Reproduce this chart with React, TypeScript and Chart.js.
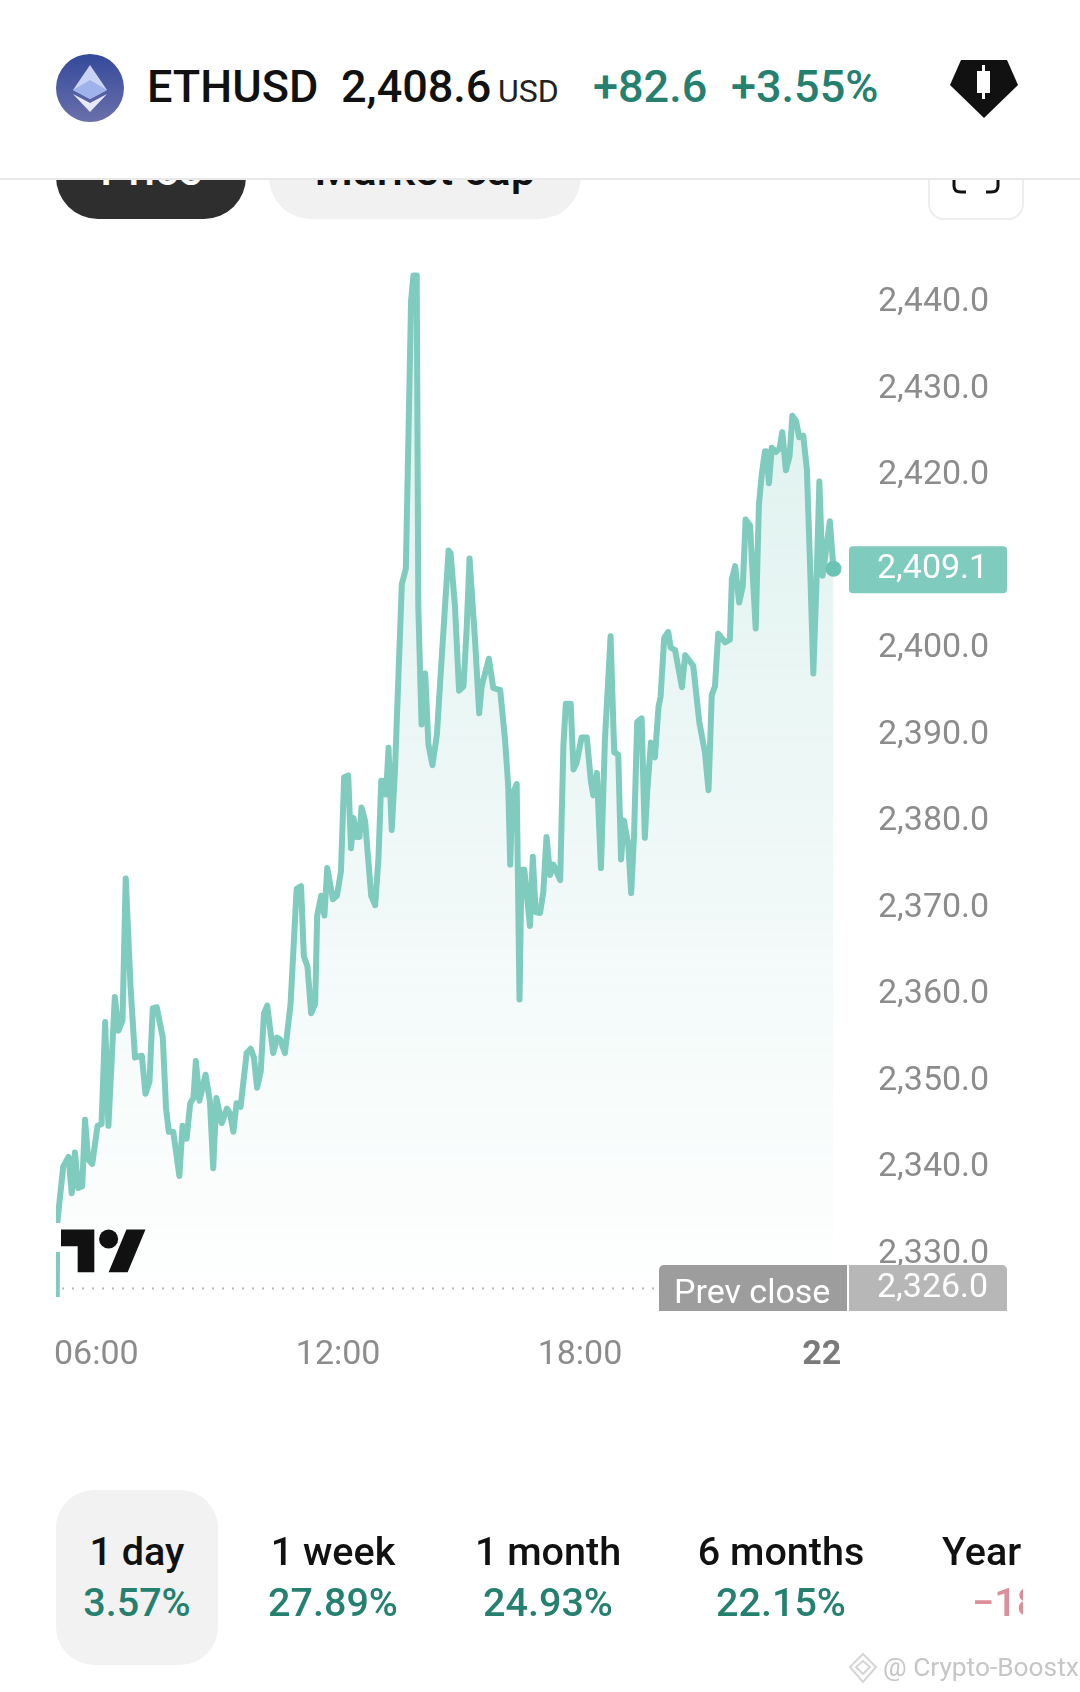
import React, { useEffect, useRef } from "react";
import { Chart, registerables } from "chart.js";

Chart.register(...registerables);

const hours = [
  5.02, 5.03, 5.1, 5.18, 5.31, 5.39, 5.47, 5.55, 5.65, 5.72, 5.8, 5.9, 6.03, 6.13, 6.22, 6.3, 6.46, 6.55, 6.65, 6.73, 6.85, 6.96, 7.13, 7.22, 7.32, 7.4, 7.5, 7.65, 7.73, 7.8, 7.91, 8.06, 8.14, 8.24, 8.33, 8.41, 8.47, 8.56, 8.71, 8.82, 8.9, 8.98, 9.11, 9.24, 9.32, 9.4, 9.48, 9.58, 9.73, 9.83, 9.91, 9.99, 10.08, 10.16, 10.24, 10.39, 10.48, 10.56, 10.68, 10.82, 10.97, 11.08, 11.15, 11.24, 11.33, 11.43, 11.48, 11.58, 11.66, 11.73, 11.87, 11.97, 12.07, 12.15, 12.25, 12.32, 12.38, 12.46, 12.53, 12.58, 12.67, 12.82, 12.92, 13.0, 13.07, 13.16, 13.19, 13.25, 13.33, 13.41, 13.58, 13.68, 13.81, 13.87, 13.95, 13.99,
  14.07, 14.16, 14.24, 14.34, 14.45, 14.57, 14.74, 14.79, 14.9, 15.0, 15.11, 15.19, 15.26, 15.4, 15.5, 15.56, 15.74, 15.85, 16.02, 16.14, 16.22, 16.27, 16.32, 16.43, 16.5, 16.55, 16.62, 16.76, 16.83, 16.9, 17.01, 17.09, 17.17, 17.26, 17.34, 17.51, 17.59, 17.65, 17.77, 17.84, 17.92, 18.04, 18.17, 18.27, 18.33, 18.42, 18.52, 18.62, 18.76, 18.85, 18.95, 19.02, 19.09, 19.2, 19.27, 19.34, 19.42, 19.53, 19.61, 19.67, 19.76, 19.86, 19.95, 20.0, 20.09, 20.19, 20.25, 20.36, 20.53, 20.61, 20.81, 20.96, 21.1, 21.19, 21.27, 21.35, 21.43, 21.6, 21.72, 21.77, 21.85, 21.95, 22.04, 22.11, 22.22, 22.36, 22.44, 22.51, 22.59, 22.62, 22.69, 22.76, 22.86, 22.95, 23.02, 23.11, 23.2, 23.27, 23.36, 23.44, 23.54, 23.63, 23.71, 23.79, 23.87, 23.94, 24.02, 24.12, 24.2, 24.29,
];

const prices = [
  2324.6, 2333.1, 2336.2, 2339.7, 2340.8, 2336.6, 2341.3, 2337.2, 2337.4, 2345.1, 2340.5, 2340.0, 2344.4, 2344.6, 2356.4, 2344.4, 2359.3, 2355.4, 2356.6, 2373.0, 2360.5, 2352.3, 2352.5, 2348.1, 2349.5, 2358.0, 2358.1, 2354.6, 2346.4, 2343.7, 2343.7, 2338.6, 2344.4, 2342.9, 2347.0, 2347.6, 2351.9, 2347.3, 2350.3, 2347.2, 2339.5, 2347.6, 2344.7, 2346.4, 2345.8, 2343.7, 2347.0, 2346.6, 2352.8, 2353.3, 2352.3, 2348.8, 2350.7, 2357.4, 2358.3, 2352.8, 2354.6, 2354.4, 2352.8, 2358.5, 2371.8, 2372.1, 2364.0, 2362.8, 2357.4, 2358.5, 2368.7, 2371.0, 2368.7, 2374.2, 2370.6, 2371.0, 2373.8, 2384.7, 2384.9, 2376.5, 2380.0, 2377.8, 2377.8, 2381.2, 2379.6, 2371.0, 2369.9, 2375.3, 2384.3, 2384.3, 2382.7, 2388.1, 2378.6, 2385.5, 2407.0, 2408.8, 2439.8, 2442.7, 2442.7, 2404.3,
  2390.8, 2396.7, 2388.5, 2386.1, 2389.6, 2398.5, 2410.9, 2410.6, 2404.4, 2394.7, 2395.2, 2402.0, 2410.0, 2400.3, 2392.1, 2395.2, 2398.4, 2395.0, 2394.8, 2389.1, 2383.7, 2374.6, 2382.6, 2383.9, 2359.0, 2374.0, 2374.0, 2367.5, 2375.5, 2369.1, 2369.0, 2371.4, 2377.8, 2373.4, 2374.6, 2372.8, 2388.5, 2393.2, 2393.2, 2385.6, 2386.4, 2389.3, 2389.3, 2384.3, 2382.6, 2385.2, 2374.2, 2389.1, 2401.0, 2387.6, 2387.3, 2375.2, 2379.7, 2376.9, 2371.3, 2377.8, 2391.1, 2391.5, 2377.7, 2383.1, 2388.7, 2387.0, 2392.9, 2394.0, 2400.8, 2401.5, 2399.7, 2399.4, 2395.1, 2398.8, 2397.6, 2391.1, 2387.6, 2383.2, 2394.2, 2395.2, 2401.3, 2400.3, 2400.6, 2407.6, 2409.1, 2404.9, 2406.8, 2414.5, 2413.8, 2401.9, 2416.2, 2419.7, 2422.4, 2422.4, 2418.7, 2422.8, 2422.3, 2422.7, 2424.6, 2420.2, 2421.8, 2426.5, 2425.9, 2424.0, 2424.2, 2420.3, 2409.1, 2396.7, 2407.4, 2418.9, 2408.0, 2411.5, 2414.3, 2408.8,
];

const yTicks = [2330, 2340, 2350, 2360, 2370, 2380, 2390, 2400, 2420, 2430, 2440];
const xTickHours = [6, 12, 18, 24];
const xTickLabels = ["06:00", "12:00", "18:00", "22"];
const lastPrice = 2409.1;
const prevClose = 2326.0;
const prevCloseLine = 2325.6;
const prevCloseSpan = [5.15, 19.96];

const periods = ["1 day", "1 week", "1 month", "6 months"];
const periodChanges = ["3.57%", "27.89%", "24.93%", "22.15%"];
const periodCenters = [137, 333, 548, 781];

const GREEN = "#25806f";
const LINE = "#7fcbbe";
const FONT = "Roboto, sans-serif";
const fmt = (v: number) => v.toLocaleString("en-US", { minimumFractionDigits: 1, maximumFractionDigits: 1 });

function Txt(p: { x: number; y: number; s: number; c: string; w?: number; center?: boolean; children: React.ReactNode }) {
  return (
    <span
      style={{
        position: "absolute",
        left: p.x,
        top: p.y - 0.842 * p.s,
        fontFamily: FONT,
        fontSize: p.s,
        fontWeight: p.w ?? 500,
        color: p.c,
        lineHeight: "1em",
        whiteSpace: "nowrap",
        transform: p.center ? "translateX(-50%)" : undefined,
      }}
    >
      {p.children}
    </span>
  );
}

const tagPlugin = {
  id: "tags",
  afterDraw(chart: any) {
    const { ctx } = chart;
    const y = chart.scales.y;
    const box = (x: number, top: number, w: number, h: number, c: string, r: number[]) => {
      ctx.fillStyle = c;
      ctx.beginPath();
      ctx.roundRect(x, top, w, h, r);
      ctx.fill();
    };
    const label = (t: string, x: number, cy: number) => {
      ctx.fillStyle = "#ffffff";
      ctx.font = `400 34px ${FONT}`;
      ctx.textAlign = "left";
      ctx.textBaseline = "middle";
      ctx.fillText(t, x, cy);
    };
    const lastY = y.getPixelForValue(lastPrice);
    box(849, lastY - 20, 158, 47, LINE, [4, 4, 4, 4]);
    label(fmt(lastPrice), 877, lastY + 3);
    const prevY = y.getPixelForValue(prevClose);
    box(659, prevY - 20, 188, 46, "#9d9d9d", [5, 0, 0, 0]);
    box(849, prevY - 20, 158, 46, "#b7b7b7", [0, 5, 0, 0]);
    label("Prev close", 674, prevY + 10);
    label(fmt(prevClose), 877, prevY + 4);
  },
};

export default function App() {
  const ref = useRef<HTMLCanvasElement>(null);
  useEffect(() => {
    const chart = new Chart(ref.current as HTMLCanvasElement, {
      type: "line",
      data: {
        datasets: [
          {
            data: hours.map((h, i) => ({ x: h, y: prices[i] })),
            borderColor: LINE,
            borderWidth: 6,
            tension: 0,
            borderJoinStyle: "round",
            fill: "start",
            backgroundColor: (c: any) => {
              const a = c.chart.chartArea;
              if (!a) return "rgba(127,203,190,0.2)";
              const g = c.chart.ctx.createLinearGradient(0, a.top, 0, a.bottom);
              g.addColorStop(0, "rgba(127,203,190,0.28)");
              g.addColorStop(1, "rgba(127,203,190,0)");
              return g;
            },
            pointRadius: (c: any) => (c.dataIndex === hours.length - 1 ? 8 : 0),
            pointBackgroundColor: "#6cc3b4",
            pointBorderWidth: 0,
          },
          {
            data: prevCloseSpan.map((h) => ({ x: h, y: prevCloseLine })),
            borderColor: "#b5b5b5",
            borderWidth: 2,
            borderDash: [2, 8],
            pointRadius: 0,
            fill: false,
          },
        ],
      } as any,
      options: {
        animation: false,
        responsive: false,
        devicePixelRatio: 1,
        layout: { padding: { left: 56, top: 260, right: 0, bottom: 0 } },
        plugins: { legend: { display: false }, tooltip: { enabled: false } },
        scales: {
          x: {
            type: "linear",
            min: 5,
            max: 24.7,
            grid: { display: false },
            border: { display: false },
            afterBuildTicks: (s: any) => {
              s.ticks = xTickHours.map((value) => ({ value }));
            },
            afterFit: (s: any) => {
              s.height = 382;
            },
            ticks: {
              autoSkip: false,
              maxRotation: 0,
              padding: 17,
              callback: (v: any) => xTickLabels[xTickHours.indexOf(Number(v))],
              color: (c: any) => (c.index === 3 ? "#7a7a7a" : "#8c8c8c"),
              font: (c: any) => ({ family: FONT, size: 34, weight: c.index === 3 ? "700" : "400" }),
            },
          },
          y: {
            position: "right",
            min: 2323.1,
            max: 2444.5,
            grid: { display: false },
            border: { display: false },
            afterBuildTicks: (s: any) => {
              s.ticks = yTicks.map((value) => ({ value }));
            },
            afterFit: (s: any) => {
              s.width = 230;
            },
            ticks: {
              autoSkip: false,
              padding: 20,
              labelOffset: 4,
              align: "center",
              crossAlign: "near",
              callback: (v: any) => fmt(Number(v)),
              color: "#8c8c8c",
              font: { family: FONT, size: 34, weight: "400" },
            },
          },
        },
      } as any,
      plugins: [tagPlugin],
    });
    return () => chart.destroy();
  }, []);

  return (
    <div style={{ position: "absolute", left: 0, top: 0, width: 1080, height: 1692, background: "#fff", overflow: "hidden" }}>
      {/* pills behind the header */}
      <div style={{ position: "absolute", left: 56, top: 120, width: 190, height: 99, borderRadius: 42, background: "#2e2e2e" }} />
      <div style={{ position: "absolute", left: 269, top: 120, width: 312, height: 99, borderRadius: 42, background: "#f1f1f1" }} />
      <div style={{ position: "absolute", left: 928, top: 120, width: 92, height: 96, borderRadius: 16, border: "2px solid #eeeeee" }} />
      <Txt x={151} y={185} s={44} c="#ffffff" center>Price</Txt>
      <Txt x={425} y={185} s={44} c="#111111" center>Market cap</Txt>
      <svg style={{ position: "absolute", left: 944, top: 175 }} width={60} height={24}>
        <path d="M10 2 V11 Q10 17 17 17 H22 M54 2 V11 Q54 17 47 17 H42" fill="none" stroke="#111" strokeWidth={3} />
      </svg>

      <canvas ref={ref} width={1080} height={1692} style={{ position: "absolute", left: 0, top: 0, width: 1080, height: 1692 }} />

      {/* header */}
      <div style={{ position: "absolute", left: 0, top: 0, width: 1080, height: 178, background: "#fff", borderBottom: "2px solid #e9e9e9" }} />
      <svg style={{ position: "absolute", left: 56, top: 54 }} width={68} height={68} viewBox="0 0 68 68">
        <defs>
          <linearGradient id="eth" x1="0" y1="0" x2="0" y2="1">
            <stop offset="0" stopColor="#34499b" />
            <stop offset="1" stopColor="#6a70aa" />
          </linearGradient>
        </defs>
        <circle cx={34} cy={34} r={34} fill="url(#eth)" />
        <polygon points="34,11 17,36 34,45 51,36" fill="#c9d4f4" />
        <polygon points="34,26 17,36 34,45 51,36" fill="#9fb2ea" />
        <polygon points="17,40 34,58 51,40 34,49" fill="#e6eafa" />
      </svg>
      <Txt x={147} y={102} s={45} c="#111111">ETHUSD</Txt>
      <Txt x={341} y={102} s={45} c="#111111">2,408.6</Txt>
      <Txt x={498} y={102} s={32} c="#222222" w={400}>USD</Txt>
      <Txt x={593} y={102} s={45} c={GREEN}>+82.6</Txt>
      <Txt x={731} y={102} s={45} c={GREEN}>+3.55%</Txt>
      <svg style={{ position: "absolute", left: 949, top: 59 }} width={70} height={60} viewBox="0 0 70 60">
        <polygon points="12,1 58,1 69,26 35,59 1,26" fill="#111" />
        <rect x={28} y={12} width={13} height={22} fill="#fff" />
        <rect x={33} y={6} width={3} height={34} fill="#fff" />
      </svg>

      {/* TradingView mark */}
      <svg style={{ position: "absolute", left: 54, top: 1220 }} width={96} height={56}>
        <rect x={0} y={3} width={9} height={29} fill="#fff" />
        <g transform="translate(7,0) scale(2.38)">
          <path d="M14 22H7V11H0V4h14v18zM28 22h-8l7.5-18h8L28 22z" fill="#111" />
          <circle cx={20} cy={8} r={4} fill="#111" />
        </g>
      </svg>

      {/* period cards */}
      <div style={{ position: "absolute", left: 56, top: 1490, width: 162, height: 175, borderRadius: 38, background: "#f2f2f2" }} />
      {periods.map((p, i) => (
        <React.Fragment key={p}>
          <Txt x={periodCenters[i]} y={1565} s={39.5} c="#111111" center>{p}</Txt>
          <Txt x={periodCenters[i]} y={1616} s={39.5} c={GREEN} center>{periodChanges[i]}</Txt>
        </React.Fragment>
      ))}
      <Txt x={942} y={1565} s={39.5} c="#111111">Year</Txt>
      <div style={{ position: "absolute", left: 960, top: 1570, width: 63, height: 60, overflow: "hidden" }}>
        <Txt x={12} y={46} s={39.5} c="#dc8f99">−18</Txt>
      </div>

      {/* watermark */}
      <svg style={{ position: "absolute", left: 847, top: 1652 }} width={32} height={32} viewBox="0 0 32 32">
        <path d="M16 2 L29 15 L16 30 L3 15 Z M16 9 L23 15 L16 22 L9 15 Z" fill="none" stroke="#d5d5d5" strokeWidth={2} />
      </svg>
      <Txt x={883} y={1676} s={26.3} c="#c6c6c6" w={400}>@ Crypto-Boostx</Txt>
    </div>
  );
}
